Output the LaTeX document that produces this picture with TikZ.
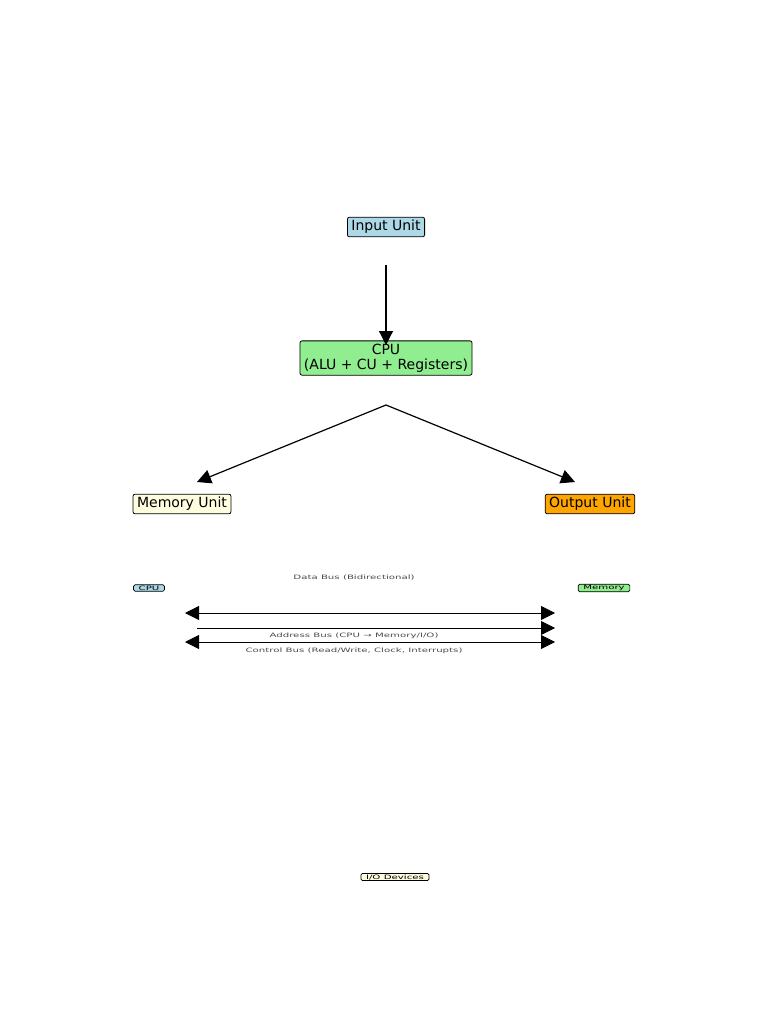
\documentclass[tikz,border=0pt]{standalone}
\usepackage{fontspec}
\setmainfont{DejaVu Sans}
\usetikzlibrary{arrows.meta}
\definecolor{lblue}{HTML}{ADD8E6}
\definecolor{lgreen}{HTML}{90EE90}
\definecolor{lyellow}{HTML}{FFFDE0}
\definecolor{orng}{HTML}{FFA500}

\begin{document}
\begin{tikzpicture}[x=1pt,y=-1pt,
  unit/.style={draw, rounded corners=2pt, line width=0.8pt, inner xsep=4pt, inner ysep=3pt, font=\fontsize{14}{15}\selectfont, align=center},
  small/.style={draw, rounded corners=1.5pt, line width=0.7pt, inner xsep=3pt, inner ysep=1pt, font=\fontsize{6}{7}\selectfont, xscale=1.7},
  buslabel/.style={font=\fontsize{6}{7}\selectfont, text=black!70, xscale=1.7},
  bigarrow/.style={-{Triangle[length=14pt,width=14pt]}, line width=1.2pt},
  busarrow/.style={line width=0.8pt}]
\useasboundingbox (0,0) rectangle (768,1024);
% Top nodes
\node[unit, fill=lblue] (input) at (386,227) {Input Unit};
\node[unit, fill=lgreen] (cpu) at (386,358) {CPU\\(ALU + CU + Registers)};
\node[unit, fill=lyellow] (memory) at (182,504) {Memory Unit};
\node[unit, fill=orng] (output) at (590,504) {Output Unit};

% Edges
\coordinate (inbot) at (386,265);
\coordinate (cputop) at (386,345);
\coordinate (cpubot) at (386,405);
\coordinate (memtop) at (197,482);
\coordinate (outtop) at (575,482);
\draw[bigarrow] (inbot) -- (cputop);
\draw[bigarrow] (cpubot) -- (memtop);
\draw[bigarrow] (cpubot) -- (outtop);

% Bus nodes
\node[small, fill=lblue] (cpub) at (149,588) {CPU};
\node[small, fill=lgreen] (memb) at (604,588) {Memory};
\node[small, fill=lyellow] (io) at (395,877) {I/O Devices};
\node[buslabel] (dlab) at (354,578) {Data Bus (Bidirectional)};
\node[buslabel] (alab) at (354,636) {Address Bus (CPU → Memory/I/O)};
\node[buslabel] (clab) at (354,651) {Control Bus (Read/Write, Clock, Interrupts)};

\coordinate (d1) at (185,613); \coordinate (d2) at (555,613);
\coordinate (a1) at (197,628); \coordinate (a2) at (555,628);
\coordinate (c1) at (185,642); \coordinate (c2) at (555,642);
\draw[busarrow, {Triangle[length=14pt,width=14pt]}-{Triangle[length=14pt,width=14pt]}] (d1) -- (d2);
\draw[busarrow, -{Triangle[length=14pt,width=14pt]}] (a1) -- (a2);
\draw[busarrow, {Triangle[length=14pt,width=14pt]}-{Triangle[length=14pt,width=14pt]}] (c1) -- (c2);
\end{tikzpicture}
\end{document}
